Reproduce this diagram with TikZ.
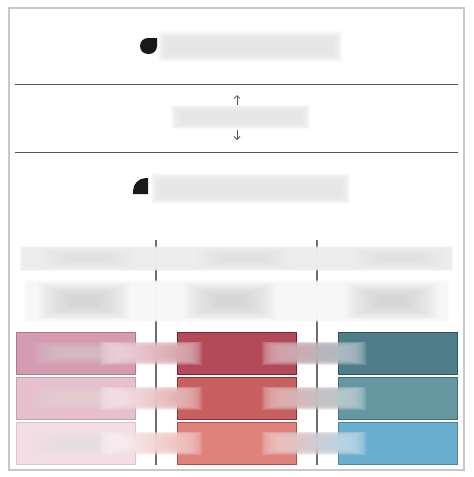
\documentclass[tikz,border=0pt]{standalone}
\usetikzlibrary{arrows.meta}
\definecolor{frameg}{HTML}{C8C8C8}
\definecolor{lineg}{HTML}{555555}
\definecolor{blurg}{HTML}{E6E6E6}
\definecolor{aA}{HTML}{D49CB0}\definecolor{aAb}{HTML}{B07A8C}
\definecolor{aB}{HTML}{E6C1CD}\definecolor{aBb}{HTML}{C9A2AF}
\definecolor{aC}{HTML}{F2DDE5}\definecolor{aCb}{HTML}{DCC3CC}
\definecolor{bA}{HTML}{B24A5A}\definecolor{bAb}{HTML}{7A2030}
\definecolor{bB}{HTML}{C85F60}\definecolor{bBb}{HTML}{8E3236}
\definecolor{bC}{HTML}{DE827B}\definecolor{bCb}{HTML}{A8504C}
\definecolor{cA}{HTML}{4F7D8A}\definecolor{cAb}{HTML}{2C5460}
\definecolor{cB}{HTML}{6497A0}\definecolor{cBb}{HTML}{3F6F78}
\definecolor{cC}{HTML}{6AAED0}\definecolor{cCb}{HTML}{4A86A4}
% soft blurred patch: x1 y1 x2 y2 style xstep ystep (12 nested layers)
\newcommand\softblob[7]{\foreach \k in {0,...,11}{\path[#5] ({#1+\k*#6},{#2+\k*#7}) rectangle ({#3-\k*#6},{#4-\k*#7});}}
\tikzset{
  rule/.style={draw=lineg, line width=0.9pt},
  colline/.style={draw=lineg!85, line width=1.2pt},
  cell/.style={line width=1pt},
  tinyarrow/.style={draw=lineg, line width=0.8pt, -{Straight Barb[length=3pt,width=6pt]}},
}
\begin{document}
\begin{tikzpicture}[x=1pt,y=-1pt]
\useasboundingbox (0,0) rectangle (474,477);
\fill[white] (0,0) rectangle (474,477);
% frame
\draw[frameg, line width=2pt] (9,8) rectangle (464,470);
% rules
\coordinate (r1a) at (15,84); \coordinate (r1b) at (458,84);
\coordinate (r2a) at (15,152); \coordinate (r2b) at (458,152);
\draw[rule] (r1a) -- (r1b);
\draw[rule] (r2a) -- (r2b);
% title icon (drop)
\fill[black!90] (157,38) [rounded corners=8] -- (157,54) -- (140,54) -- (140,38) [sharp corners] -- cycle;
\softblob{158}{31}{342}{62}{fill=blurg, fill opacity=0.2}{1.0}{0.9}
% arrows
\coordinate (ua) at (237,105); \coordinate (ub) at (237,95);
\coordinate (da) at (237,130); \coordinate (db) at (237,140);
\draw[tinyarrow] (ua) -- (ub);
\draw[tinyarrow] (da) -- (db);
\softblob{171}{105}{310}{129}{fill=blurg, fill opacity=0.2}{1.0}{0.7}
% second icon (quarter)
\fill[black!90] (148,194) -- (133,194) [rounded corners=13] -- (133,178) [sharp corners] -- (148,178) -- cycle;
\softblob{151}{173}{350}{204}{fill=blurg, fill opacity=0.2}{1.0}{0.9}
% column separators
\coordinate (v1a) at (156,240); \coordinate (v1b) at (156,465);
\coordinate (v2a) at (317,240); \coordinate (v2b) at (317,465);
\draw[colline] (v1a) -- (v1b);
\draw[colline] (v2a) -- (v2b);
% cells
\foreach \x/\c in {16/a,177/b,338/c}{
  \draw[cell, fill=\c A, draw=\c Ab] (\x,332) rectangle ++(119,42);
  \draw[cell, fill=\c B, draw=\c Bb] (\x,377) rectangle ++(119,42);
  \draw[cell, fill=\c C, draw=\c Cb] (\x,422) rectangle ++(119,42);
}
% header row blur
\softblob{20}{246}{453}{271}{fill=white!93!black, fill opacity=0.45}{0.8}{0.6}
\foreach \x in {40,195,352}{\softblob{\x}{248}{\x+95}{269}{fill=white!88!black, fill opacity=0.07}{2.5}{0.7}}
% second header row blur
\softblob{24}{280}{449}{322}{fill=white!97!black, fill opacity=0.45}{0.8}{0.6}
\foreach \x in {38,184,346}{\softblob{\x}{283}{\x+92}{319}{fill=white!80!black, fill opacity=0.09}{3}{1.2}}
% row text blurs
\foreach \y/\r in {353/A,398/B,443/C}{
  \softblob{32}{\y-11}{124}{\y+11}{fill=white!78!gray, fill opacity=0.05}{2.5}{0.7}
  \softblob{100}{\y-11}{202}{\y+11}{left color=a\r!45!white, middle color=white!88!gray, right color=b\r!50!white, fill opacity=0.3}{2.3}{0.65}
  \softblob{262}{\y-11}{366}{\y+11}{left color=b\r!50!white, middle color=white!88!gray, right color=c\r!50!white, fill opacity=0.3}{2.3}{0.65}
}
\end{tikzpicture}
\end{document}
